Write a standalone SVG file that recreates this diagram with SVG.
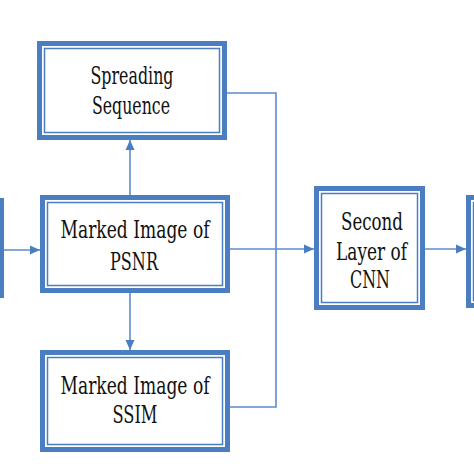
<svg xmlns="http://www.w3.org/2000/svg" width="474" height="474" viewBox="0 0 474 474">
<style>
.outer{fill:#fff;stroke:#4A7EC0;stroke-width:5}
.inner{fill:none;stroke:#4A7EC0;stroke-width:1.5}
.lbl{font-family:"DejaVu Serif","Liberation Serif",serif;font-size:24px;fill:#111;text-anchor:middle}
.conn{fill:none;stroke:#5B8CCB;stroke-width:1.6}
</style>
<defs>
<marker id="ah" markerUnits="userSpaceOnUse" markerWidth="10" markerHeight="10" viewBox="0 0 10 10" refX="10" refY="5" orient="auto">
<path d="M0,0.5 L10,5 L0,9.5 Z" fill="#4A7EC0"/>
</marker>
</defs>
<rect width="474" height="474" fill="#fff"/>
<g id="connectors">
<line class="conn" x1="4" y1="250" x2="40" y2="250" marker-end="url(#ah)"/>
<line class="conn" x1="130" y1="195" x2="130" y2="140" marker-end="url(#ah)"/>
<line class="conn" x1="130" y1="293" x2="130" y2="350" marker-end="url(#ah)"/>
<polyline class="conn" points="227,93 276,93 276,407 230,407"/>
<line class="conn" x1="230" y1="249" x2="314" y2="249" marker-end="url(#ah)"/>
<line class="conn" x1="425" y1="249" x2="466" y2="249" marker-end="url(#ah)"/>
</g>
<g id="left-box">
<rect class="outer" x="-100" y="200.5" width="101.5" height="95"/>
</g>
<g id="spreading">
<rect class="outer" x="39.5" y="43.5" width="185" height="94"/>
<rect class="inner" x="44.5" y="48.5" width="175" height="84"/>
<text class="lbl" x="132" y="84" textLength="83" lengthAdjust="spacingAndGlyphs">Spreading</text>
<text class="lbl" x="131" y="114" textLength="78" lengthAdjust="spacingAndGlyphs">Sequence</text>
</g>
<g id="psnr">
<rect class="outer" x="42.5" y="197.5" width="185" height="93"/>
<rect class="inner" x="47.5" y="202.5" width="175" height="83"/>
<text class="lbl" x="135" y="238" textLength="149" lengthAdjust="spacingAndGlyphs">Marked Image of</text>
<text class="lbl" x="134" y="270" textLength="48" lengthAdjust="spacingAndGlyphs">PSNR</text>
</g>
<g id="ssim">
<rect class="outer" x="42.5" y="352.5" width="185" height="97"/>
<rect class="inner" x="47.5" y="357.5" width="175" height="87"/>
<text class="lbl" x="135" y="394" textLength="149" lengthAdjust="spacingAndGlyphs">Marked Image of</text>
<text class="lbl" x="135" y="423" textLength="45" lengthAdjust="spacingAndGlyphs">SSIM</text>
</g>
<g id="second-layer">
<rect class="outer" x="316.5" y="188.5" width="106" height="119"/>
<rect class="inner" x="321.5" y="193.5" width="96" height="109"/>
<text class="lbl" x="372" y="230" textLength="62" lengthAdjust="spacingAndGlyphs">Second</text>
<text class="lbl" x="371.5" y="260" textLength="71" lengthAdjust="spacingAndGlyphs">Layer of</text>
<text class="lbl" x="370" y="288" textLength="40" lengthAdjust="spacingAndGlyphs">CNN</text>
</g>
<g id="right-box">
<rect class="outer" x="468.5" y="197.5" width="100" height="108"/>
<rect class="inner" x="473.5" y="202.5" width="90" height="98"/>
</g>
</svg>
